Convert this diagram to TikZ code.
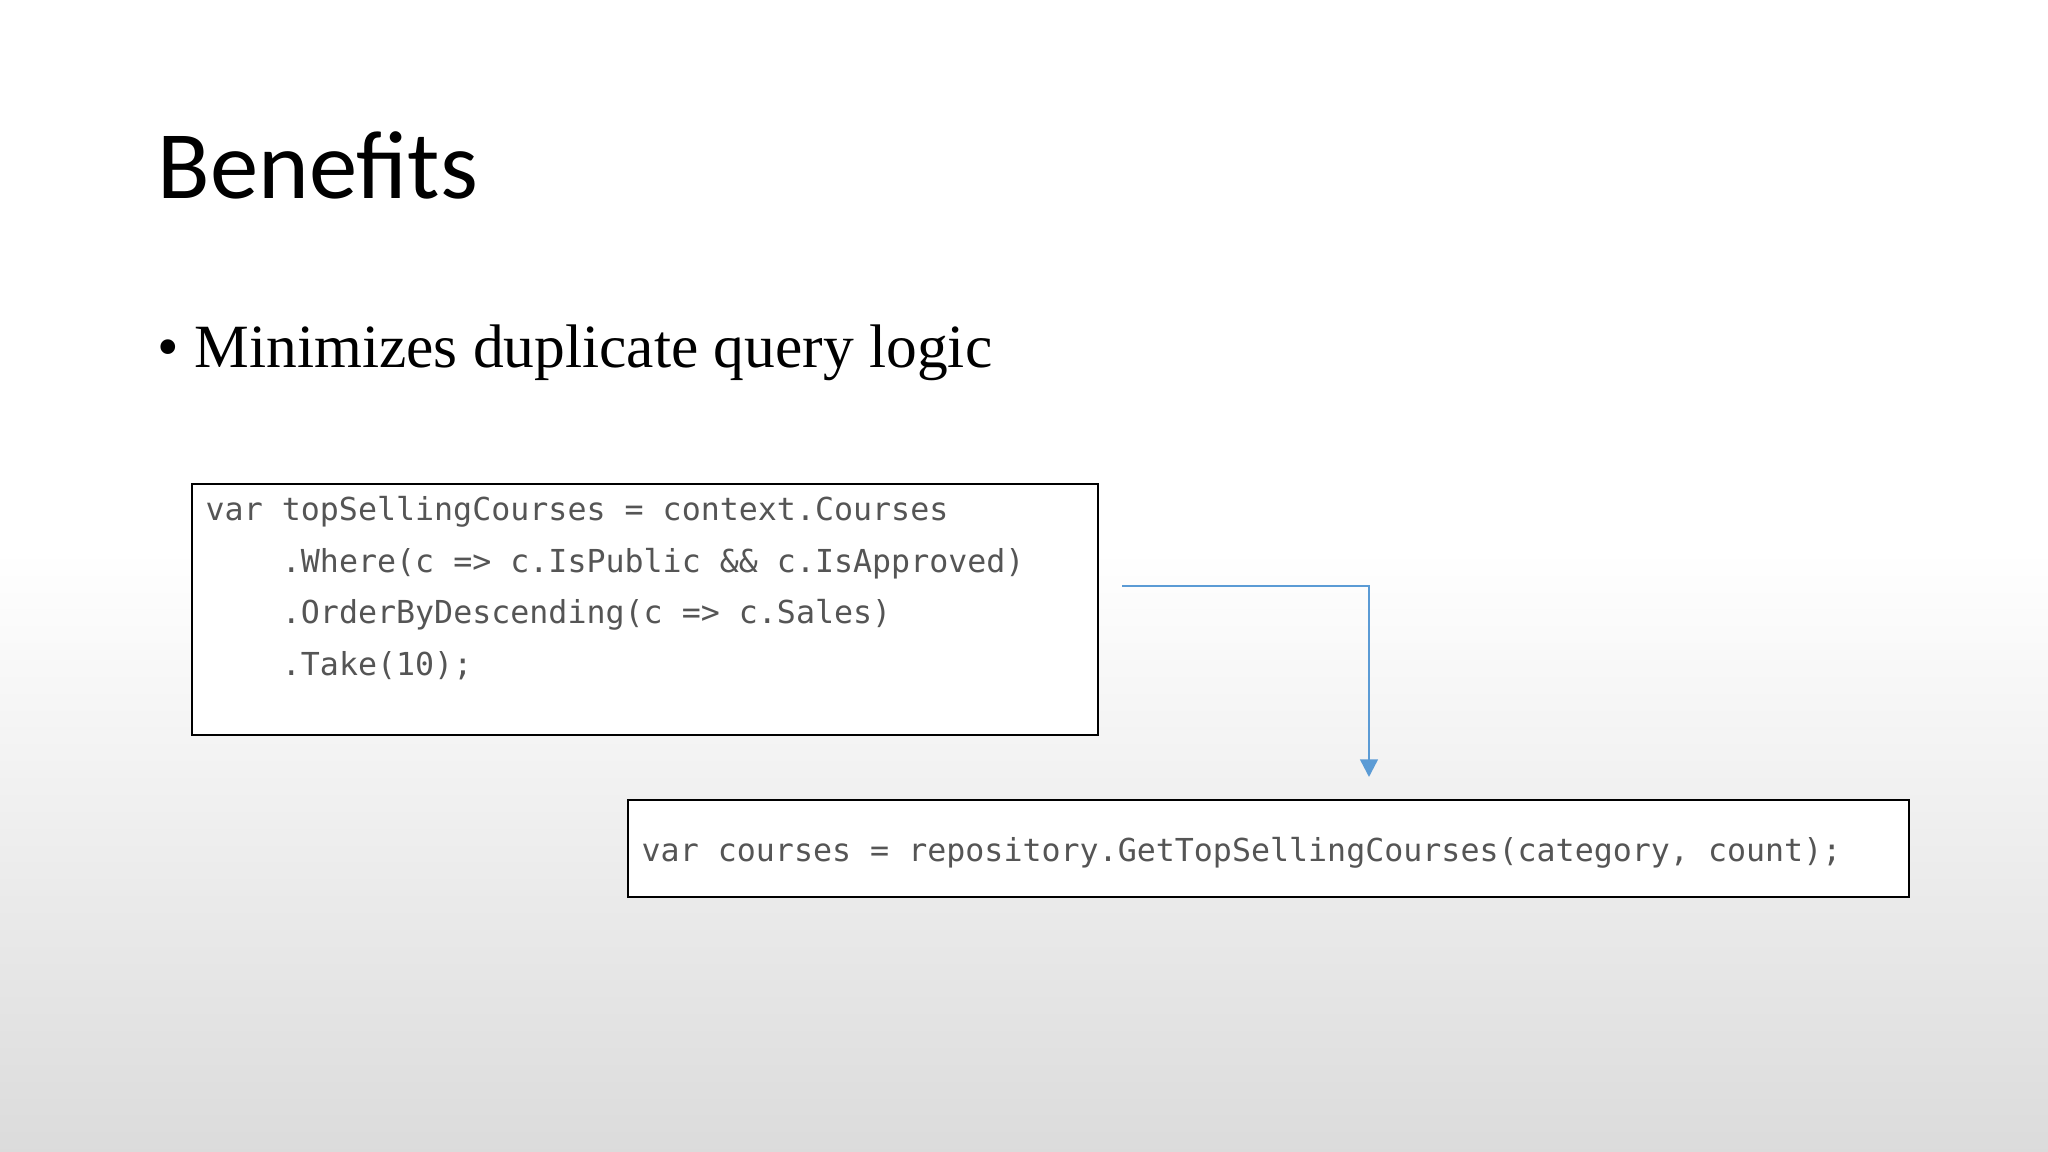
\documentclass[tikz,border=0pt]{standalone}
\usepackage{fontspec}
\setmainfont{Liberation Serif}
\newfontfamily\titlefont{Carlito}
\setmonofont{DejaVu Sans Mono}
\usetikzlibrary{arrows.meta}
\definecolor{codegray}{HTML}{555555}
\definecolor{arrowblue}{HTML}{5B9BD5}
\tikzset{
  codebox/.style={draw=black, line width=0.6pt, fill=white},
  codeline/.style={anchor=base west, inner sep=0pt, font=\ttfamily\fontsize{9pt}{11pt}\selectfont, text=codegray},
}
\begin{document}
\begin{tikzpicture}[x=1cm,y=1cm]
\fill[white] (0,0) rectangle (20.48,-5.5);
\shade[top color=white, bottom color=black!14] (0,-5.5) rectangle (20.48,-11.52);
\useasboundingbox (0,0) rectangle (20.48,-11.52);
\node[anchor=base west, inner sep=0pt, font=\titlefont\fontsize{27.5pt}{33pt}\selectfont] (title) at (1.57,-1.99) {Benefits};
\node[anchor=base west, inner sep=0pt, font=\fontsize{17.5pt}{21pt}\selectfont] (bullet) at (1.57,-3.68) {• Minimizes duplicate query logic};
\node[codebox, minimum width=9.06cm, minimum height=2.51cm, anchor=north west] (box1) at (1.91,-4.83) {};
\node[codeline] (l1) at (2.05,-5.21) {var topSellingCourses = context.Courses};
\node[codeline] (l2) at (2.05,-5.73) {\ \ \ \ .Where(c => c.IsPublic \&\& c.IsApproved)};
\node[codeline] (l3) at (2.05,-6.24) {\ \ \ \ .OrderByDescending(c => c.Sales)};
\node[codeline] (l4) at (2.05,-6.76) {\ \ \ \ .Take(10);};
\node[codebox, minimum width=12.81cm, minimum height=0.97cm, anchor=north west] (box2) at (6.27,-7.99) {};
\node[codeline] (m1) at (6.41,-8.62) {var courses = repository.GetTopSellingCourses(category, count);};
\coordinate (a0) at (11.22,-5.86);
\coordinate (a1) at (13.69,-7.77);
\draw[arrowblue, line width=0.7pt, -{Triangle[length=5pt,width=5pt]}] (a0) -| (a1);
\end{tikzpicture}
\end{document}
